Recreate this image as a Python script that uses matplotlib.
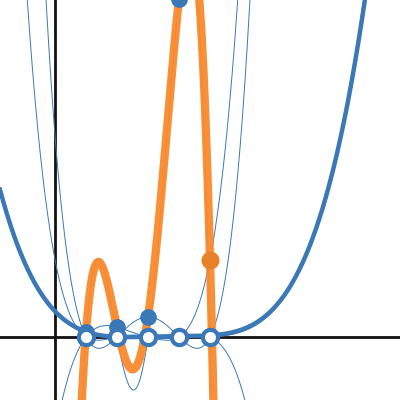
import numpy as np
import matplotlib.pyplot as plt

# interpolation nodes and their values
nodes = [1, 2, 3, 4, 5]
node_vals = [0.16, 0.32, 0.65, 10.9, 2.5]

# points
blue_x = [-1.77, 0, 1, 3, 4.5, 6, 8.29, 10]
blue_y = [4.74, 0.8, 0.2, 0.02, 0.0, 0.25, 3.13, 10.9]

BLUE = '#3a78b8'
ORANGE = '#f98a2c'

fig = plt.figure(figsize=(4, 4), dpi=100)
ax = fig.add_axes([0, 0, 1, 1])
ax.set_xlim(-55 / 31, 345 / 31)
ax.set_ylim(-63 / 31, 337 / 31)
ax.axis('off')

ax.axhline(0, color='#111111', lw=2)
ax.axvline(0, color='#111111', lw=2)

xs = np.linspace(-2, 12, 2000)

# thin scaled lagrange basis curves, orange is their sum
total = np.zeros_like(xs)
for i, v in zip(nodes, node_vals):
    yb = np.full_like(xs, v)
    for j in nodes:
        if j != i:
            yb *= (xs - j) / (i - j)
    total += yb
    ax.plot(xs, yb, color=BLUE, lw=0.7)

bc = np.polyfit(blue_x, blue_y, 4)
ax.plot(xs, np.polyval(bc, xs), color=BLUE, lw=3.2)

ax.plot(xs, total, color=ORANGE, lw=6, alpha=0.95)

ax.plot(nodes[:4], node_vals[:4], 'o', color=BLUE, ms=11)
ax.plot([nodes[4]], [node_vals[4]], 'o', color='#e8822a', ms=12)
ax.plot(nodes, [0] * 5, 'o', mfc='white', mec=BLUE, mew=3, ms=11)

fig.savefig('out.png', dpi=100)
